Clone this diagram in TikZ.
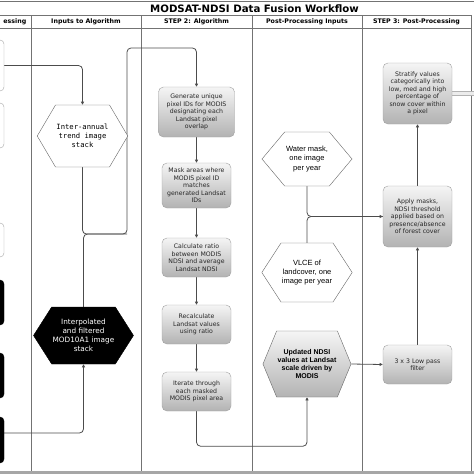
\documentclass[tikz,border=0pt]{standalone}
\usepackage{fontspec}
\setmainfont{DejaVu Sans}
\newfontfamily\hexfont{Liberation Sans}
\newfontfamily\typefont{DejaVu Sans Mono}
\usetikzlibrary{shapes.symbols,arrows.meta,backgrounds}

\begin{document}
\begin{tikzpicture}[
  x=1pt, y=-1pt,
  every node/.style={inner sep=1pt, align=center},
  stepbox/.style={rectangle, rounded corners=5pt, draw=gray!75, top color=gray!8,
    bottom color=gray!60, minimum width=69pt, text=black!85,
    font=\fontsize{6.2}{7.5}\selectfont},
  hexa/.style={signal, signal to=east and west, draw=black!60, fill=white,
    font=\hexfont\fontsize{7.5}{9.3}\selectfont},
  sidebox/.style={rectangle, rounded corners=4pt, draw=gray!70, fill=white, minimum width=50pt},
  darkbox/.style={sidebox, draw=black, fill=black},
  lanehead/.style={font=\bfseries\fontsize{6.3}{7}\selectfont},
  >={Triangle[length=3.2pt, width=3pt]},
]
%-------------------------------------------------------------
\newcommand{\colorisF}{black!55}
\newcommand{\colorisC}{black!70}

\useasboundingbox (0,0) rectangle (474,474);
\clip (0,0) rectangle (474,474);

\node (title) at (254.5,9) {\bfseries\fontsize{10.2}{11}\selectfont MODSAT-NDSI Data Fusion Workflow};
%============================================================
\node[lanehead, anchor=east] (H1) at (27.5,22) {essing};
\node[lanehead] (H2) at (86,22) {Inputs to Algorithm};
\node[lanehead] (H3) at (196.5,22) {STEP 2: Algorithm};
\node[lanehead] (H4) at (307,22) {Post-Processing Inputs};
\node[lanehead] (H5) at (416.5,22) {STEP 3: Post-Processing};
%============================================================
\node[sidebox, minimum height=51pt] (L1) at (-21,65.5) {};
\node[sidebox, minimum height=45pt] (L2) at (-21,125.5) {};
\node[sidebox, minimum height=34pt] (L3) at (-21,240) {};
\node[darkbox, minimum height=45pt] (L4) at (-21,302.5) {};
\node[darkbox, minimum height=45pt] (L5) at (-21,375.5) {};
\node[darkbox, minimum height=46pt] (L6) at (-21,440) {};
%============================================================
\node[hexa, minimum width=75pt, minimum height=62pt, signal pointer angle=119,
  font=\typefont\fontsize{7.2}{9}\selectfont] (I1) at (82.5,136)
  {Inter-annual\\trend image\\stack};
\node[hexa, minimum width=87pt, minimum height=57pt, signal pointer angle=115,
  draw=black, fill=black, text=white, font=\fontsize{7.3}{9}\selectfont] (I2) at (83.5,335.5)
  {Interpolated\\and filtered\\MOD10A1 image\\stack};
%============================================================
\node[stepbox, minimum width=76pt, minimum height=50pt] (A1) at (196.5,112)
  {Generate unique\\pixel IDs for MODIS\\designating each\\Landsat pixel\\overlap};
\node[stepbox, minimum height=45pt] (A2) at (196.5,185.5)
  {Mask areas where\\MODIS pixel ID\\matches\\generated Landsat\\IDs};
\node[stepbox, minimum height=39pt] (A3) at (196.5,257.5)
  {Calculate ratio\\between MODIS\\NDSI and average\\Landsat NDSI};
\node[stepbox, minimum height=39pt] (A4) at (196.5,324.5)
  {Recalculate\\Landsat values\\using ratio};
\node[stepbox, minimum height=39pt] (A5) at (196.5,391.5)
  {Iterate through\\each masked\\MODIS pixel area};
%============================================================
\node[hexa, minimum width=90pt, minimum height=54pt, signal pointer angle=100] (P1) at (307,159)
  {Water mask,\\one image\\per year};
\node[hexa, minimum width=90pt, minimum height=59pt, signal pointer angle=114] (P2) at (307,272.5)
  {VLCE of\\landcover, one\\image per year};
\node[hexa, minimum width=84pt, minimum height=66pt, signal pointer angle=135,
  top color=gray!8, bottom color=gray!60, font=\hexfont\bfseries\fontsize{7}{8.3}\selectfont] (P3) at (307,364)
  {Updated NDSI\\values at Landsat\\scale driven by\\MODIS};
%============================================================
\node[stepbox, minimum height=61pt] (T1) at (417.5,93.5)
  {Stratify values\\categorically into\\low, med and high\\percentage of\\snow cover within\\a pixel};
\node[stepbox, minimum height=61pt] (T2) at (417.5,216.5)
  {Apply masks,\\NDSI threshold\\applied based on\\presence/absence\\of forest cover};
\node[stepbox, minimum height=39pt] (T3) at (417.5,364.5)
  {3 x 3 Low pass\\filter};
%============================================================
\coordinate (J1) at (127,234);
\coordinate (J2) at (127,48);

\begin{pgfonlayer}{background}
  \draw[\colorisF, line width=0.8pt] (0,1.5) -- (474,1.5);
  \draw[\colorisF, line width=0.8pt] (0,15) -- (471,15);
  \draw[\colorisF, line width=0.8pt] (0,28) -- (471,28);
  \foreach \xl in {31,141,252,362,471}
    \draw[\colorisF, line width=0.8pt] (\xl,15) -- (\xl,472);
  \draw[gray!70, line width=2.5pt] (0,472.5) -- (474,472.5);

  \draw[\colorisC, thick, rounded corners=4pt, ->] (L1.east) -| (I1.north);
  \draw[\colorisC, thick, rounded corners=4pt, ->] (I1.south) |- (J1) -- (J2) -| (A1.north);
  \draw[\colorisC, thick, rounded corners=4pt] (I2.north) |- (J1);
  \draw[\colorisC, thick, rounded corners=4pt, ->] ([yshift=7pt]L6.east) -| (I2.south);

  \draw[\colorisC, thick, ->] (A1) -- (A2);
  \draw[\colorisC, thick, ->] (A2) -- (A3);
  \draw[\colorisC, thick, ->] (A3) -- (A4);
  \draw[\colorisC, thick, ->] (A4) -- (A5);
  \draw[\colorisC, thick, rounded corners=4pt, ->] (A5.south) -- ++(0,35) -| (P3.south);

  \draw[\colorisC, thick, ->] (P3.east) -- (T3.west);
  \draw[\colorisC, thick, rounded corners=4pt, ->] (P1.south) |- (T2.west);
  \draw[\colorisC, thick, rounded corners=4pt] (P2.north) |- (T2.west);
  \draw[\colorisC, thick, ->] (T3) -- (T2);
  \draw[\colorisC, thick, ->] (T2) -- (T1);
  \draw[gray!60, double=gray!15, double distance=3pt, thick] (T1.east) -- ++(30,0);
\end{pgfonlayer}

\end{tikzpicture}
\end{document}
